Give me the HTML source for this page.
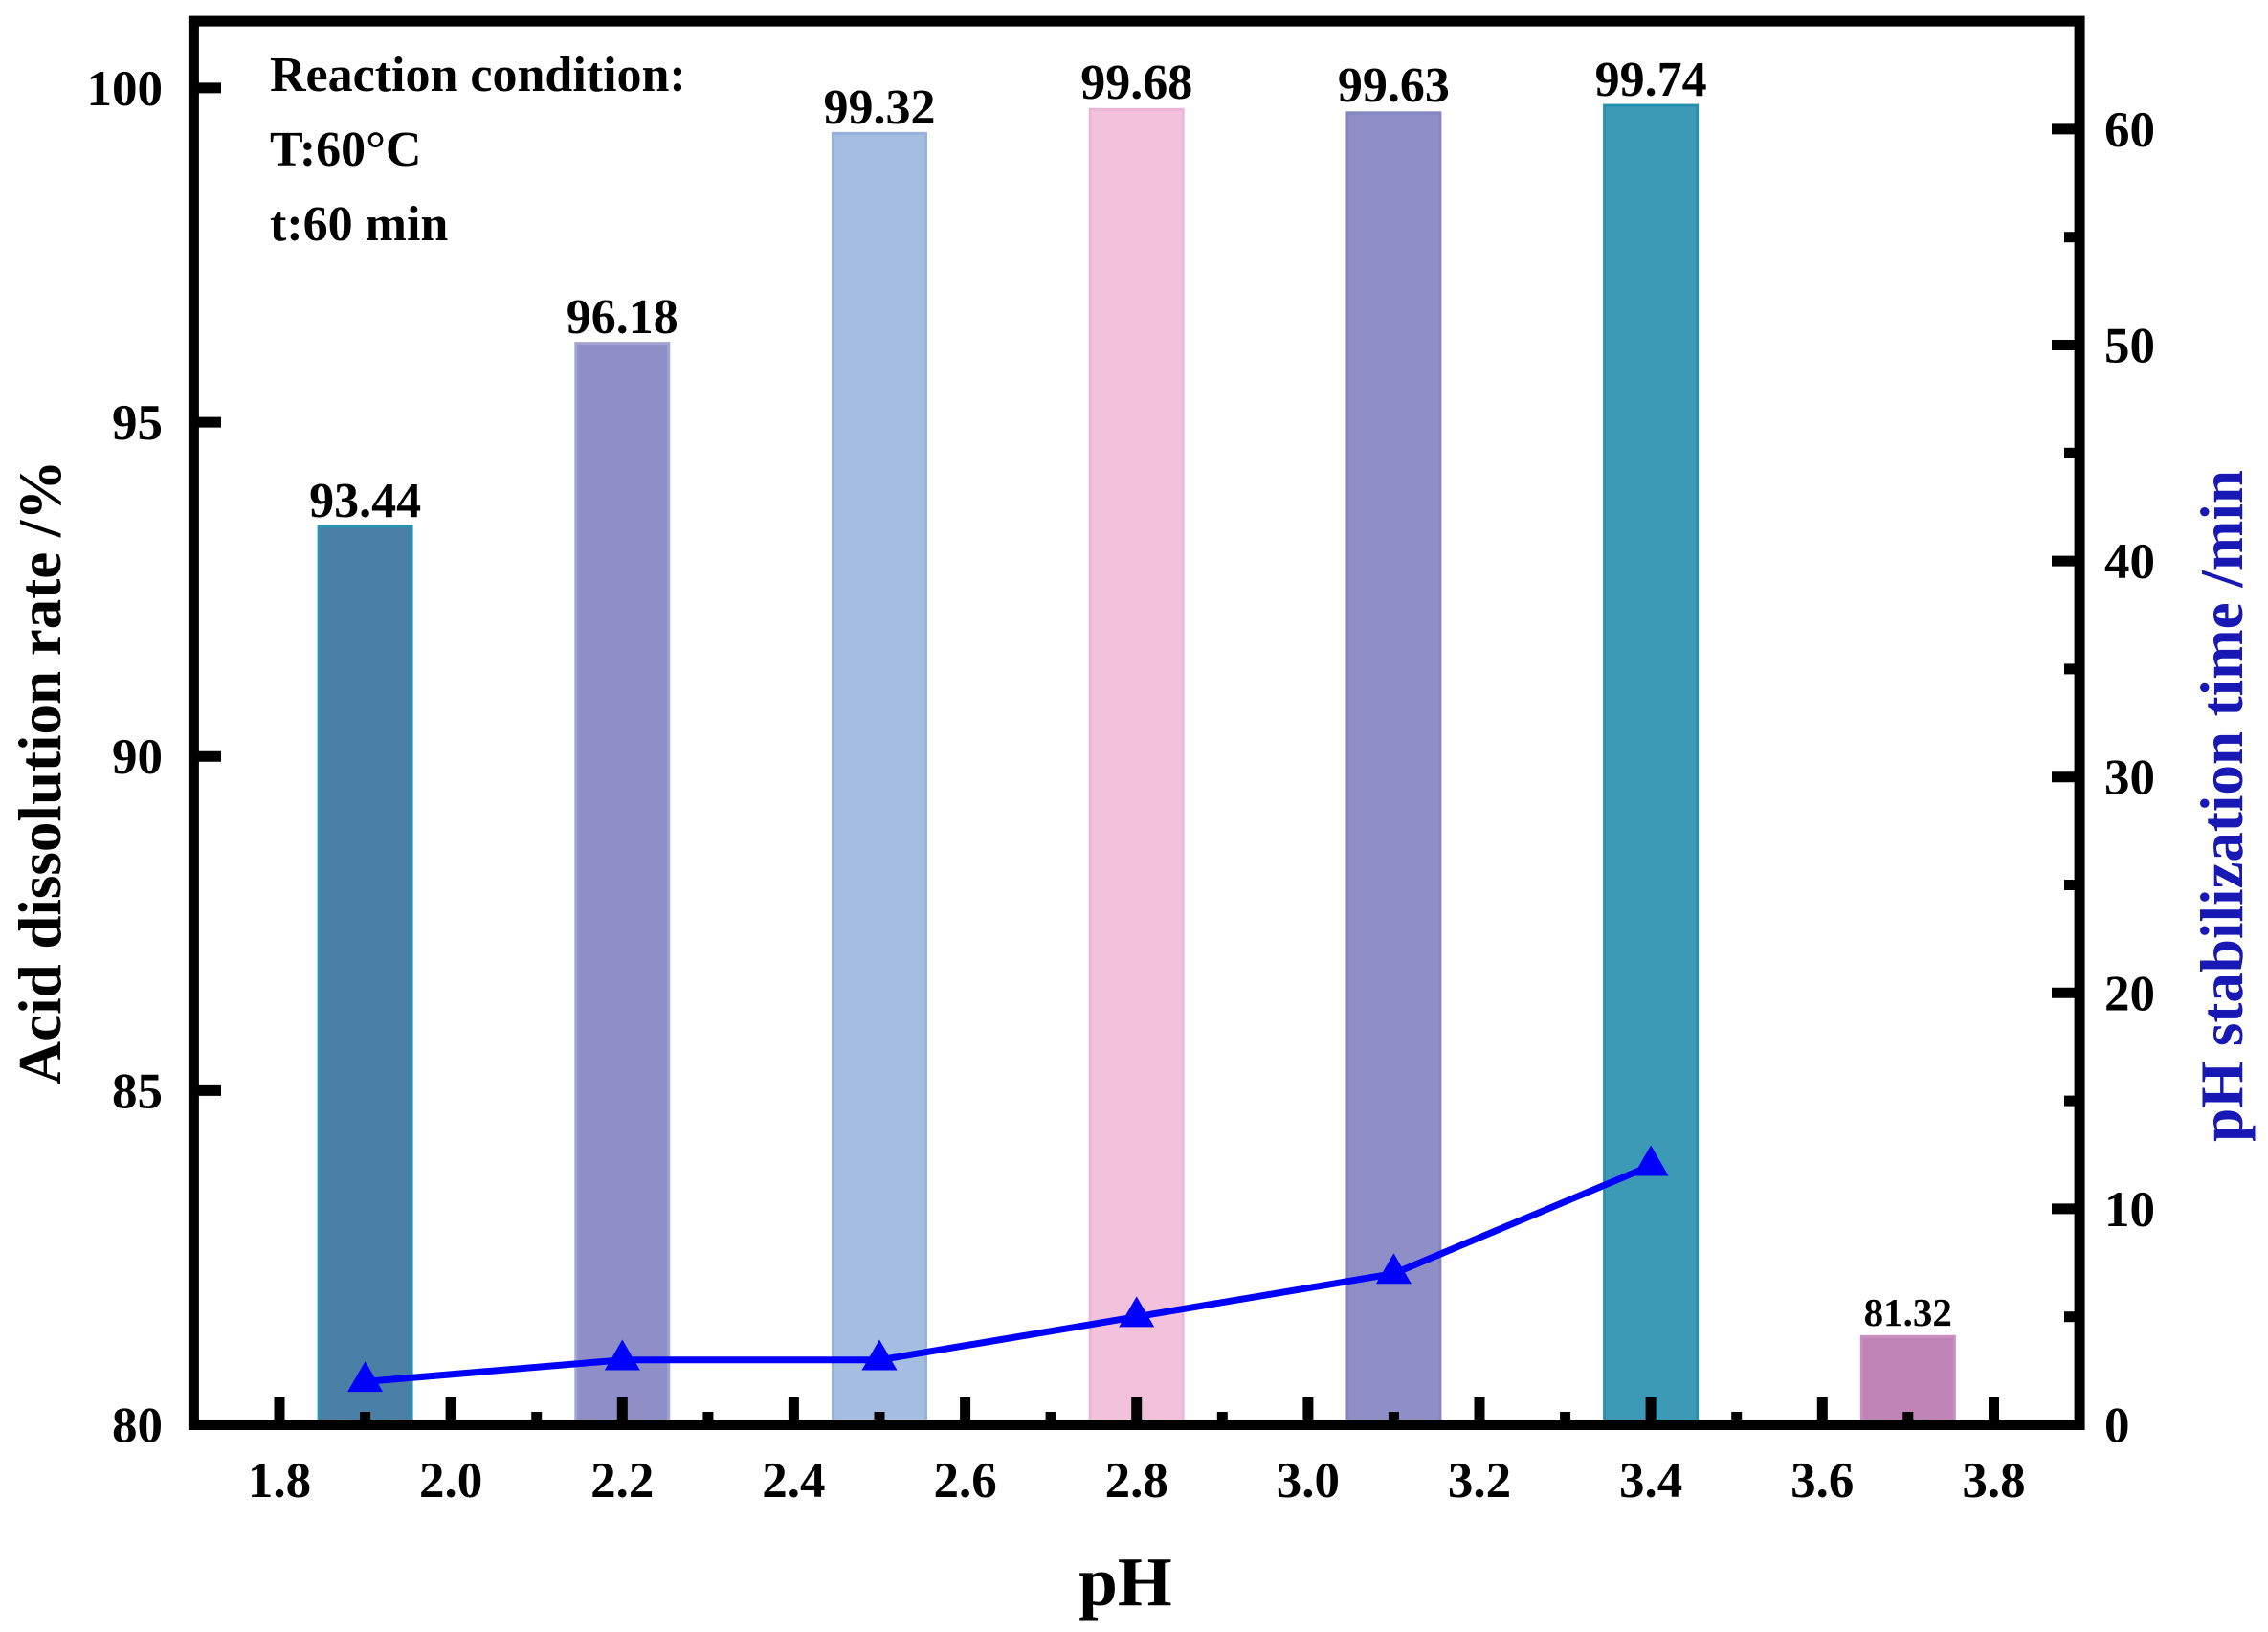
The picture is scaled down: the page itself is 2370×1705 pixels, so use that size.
<!DOCTYPE html>
<html>
<head>
<meta charset="utf-8">
<style>
  html, body { margin: 0; padding: 0; background: #ffffff; }
  svg { display: block; }
  text { font-family: "Liberation Serif", "Times New Roman", serif; font-weight: bold; }
</style>
</head>
<body>
<svg width="2370" height="1705" viewBox="0 0 2370 1705" xmlns="http://www.w3.org/2000/svg">
  <rect x="0" y="0" width="2370" height="1705" fill="#ffffff"/>

  <!-- Bars -->
  <rect x="333.1" y="549.9" width="97" height="938.6" fill="#4a80a6" stroke="#2a95b2" stroke-width="3"/>
  <rect x="601.8" y="358.6" width="97" height="1129.9" fill="#8f8fc7" stroke="#a3a3d4" stroke-width="3"/>
  <rect x="870.5" y="139.4" width="97" height="1349.1" fill="#a6bde2" stroke="#98b0dc" stroke-width="3"/>
  <rect x="1139.2" y="114.3" width="97" height="1374.2" fill="#f2c1dc" stroke="#ebb6d5" stroke-width="3"/>
  <rect x="1407.9" y="117.8" width="97" height="1370.7" fill="#8f8fc7" stroke="#8585c0" stroke-width="3"/>
  <rect x="1676.6" y="110.1" width="97" height="1378.4" fill="#3d9ab7" stroke="#2790ad" stroke-width="3"/>
  <rect x="1945.3" y="1396.3" width="97" height="92.2" fill="#bf83b5" stroke="#c890c0" stroke-width="3"/>

  <!-- Bar value labels -->
  <g font-size="52" fill="#000" text-anchor="middle">
    <text x="381.6" y="540">93.44</text>
    <text x="650.3" y="348">96.18</text>
    <text x="919" y="129">99.32</text>
    <text x="1187.7" y="103">99.68</text>
    <text x="1456.4" y="106">99.63</text>
    <text x="1725.1" y="100">99.74</text>
  </g>
  <text x="1993.8" y="1385" font-size="41" fill="#000" text-anchor="middle">81.32</text>

  <!-- Annotation -->
  <g font-size="52" fill="#000">
    <text x="282" y="95">Reaction condition:</text>
    <text x="282" y="173">T:60°C</text>
    <text x="282" y="251">t:60 min</text>
  </g>

  <!-- Line series -->
  <polyline points="381.6,1443.4 650.3,1420.8 919,1420.8 1187.7,1375.7 1456.4,1330.6 1725.1,1217.8"
            fill="none" stroke="#0000ff" stroke-width="7" stroke-linejoin="miter"/>
  <g fill="#0000ff">
    <polygon points="381.6,1422.1 363.1,1454.1 400.1,1454.1"/>
    <polygon points="650.3,1399.5 631.8,1431.5 668.8,1431.5"/>
    <polygon points="919,1399.5 900.5,1431.5 937.5,1431.5"/>
    <polygon points="1187.7,1354.4 1169.2,1386.4 1206.2,1386.4"/>
    <polygon points="1456.4,1309.3 1437.9,1341.3 1474.9,1341.3"/>
    <polygon points="1725.1,1196.5 1706.6,1228.5 1743.6,1228.5"/>
  </g>

  <!-- X ticks (inward) -->
  <g stroke="#000" stroke-width="11">
    <line x1="292" y1="1488" x2="292" y2="1460"/>
    <line x1="471.1" y1="1488" x2="471.1" y2="1460"/>
    <line x1="650.3" y1="1488" x2="650.3" y2="1460"/>
    <line x1="829.4" y1="1488" x2="829.4" y2="1460"/>
    <line x1="1008.6" y1="1488" x2="1008.6" y2="1460"/>
    <line x1="1187.7" y1="1488" x2="1187.7" y2="1460"/>
    <line x1="1366.9" y1="1488" x2="1366.9" y2="1460"/>
    <line x1="1546" y1="1488" x2="1546" y2="1460"/>
    <line x1="1725.1" y1="1488" x2="1725.1" y2="1460"/>
    <line x1="1904.3" y1="1488" x2="1904.3" y2="1460"/>
    <line x1="2083.5" y1="1488" x2="2083.5" y2="1460"/>
    <!-- minor -->
    <line x1="381.6" y1="1488" x2="381.6" y2="1475"/>
    <line x1="560.7" y1="1488" x2="560.7" y2="1475"/>
    <line x1="739.9" y1="1488" x2="739.9" y2="1475"/>
    <line x1="919" y1="1488" x2="919" y2="1475"/>
    <line x1="1098.1" y1="1488" x2="1098.1" y2="1475"/>
    <line x1="1277.3" y1="1488" x2="1277.3" y2="1475"/>
    <line x1="1456.4" y1="1488" x2="1456.4" y2="1475"/>
    <line x1="1635.6" y1="1488" x2="1635.6" y2="1475"/>
    <line x1="1814.7" y1="1488" x2="1814.7" y2="1475"/>
    <line x1="1993.8" y1="1488" x2="1993.8" y2="1475"/>

    <!-- Left ticks -->
    <line x1="202" y1="1139.4" x2="231" y2="1139.4"/>
    <line x1="202" y1="790.2" x2="231" y2="790.2"/>
    <line x1="202" y1="441.1" x2="231" y2="441.1"/>
    <line x1="202" y1="91.9" x2="231" y2="91.9"/>

    <!-- Right ticks major -->
    <line x1="2173" y1="1262.9" x2="2144" y2="1262.9"/>
    <line x1="2173" y1="1037.3" x2="2144" y2="1037.3"/>
    <line x1="2173" y1="811.7" x2="2144" y2="811.7"/>
    <line x1="2173" y1="586.1" x2="2144" y2="586.1"/>
    <line x1="2173" y1="360.5" x2="2144" y2="360.5"/>
    <line x1="2173" y1="134.9" x2="2144" y2="134.9"/>
    <!-- Right ticks minor -->
    <line x1="2173" y1="1375.7" x2="2157" y2="1375.7"/>
    <line x1="2173" y1="1150.1" x2="2157" y2="1150.1"/>
    <line x1="2173" y1="924.5" x2="2157" y2="924.5"/>
    <line x1="2173" y1="698.9" x2="2157" y2="698.9"/>
    <line x1="2173" y1="473.3" x2="2157" y2="473.3"/>
    <line x1="2173" y1="247.7" x2="2157" y2="247.7"/>
  </g>

  <!-- Frame -->
  <rect x="202.4" y="22.1" width="1970.7" height="1466.4" fill="none" stroke="#000" stroke-width="11"/>

  <!-- Left tick labels -->
  <g font-size="53" fill="#000" text-anchor="end">
    <text x="170" y="1506.5">80</text>
    <text x="170" y="1157.4">85</text>
    <text x="170" y="808.2">90</text>
    <text x="170" y="459.1">95</text>
    <text x="170" y="109.9">100</text>
  </g>

  <!-- Right tick labels -->
  <g font-size="53" fill="#000" text-anchor="start">
    <text x="2199" y="1506.5">0</text>
    <text x="2199" y="1280.9">10</text>
    <text x="2199" y="1055.3">20</text>
    <text x="2199" y="829.7">30</text>
    <text x="2199" y="604.1">40</text>
    <text x="2199" y="378.5">50</text>
    <text x="2199" y="152.9">60</text>
  </g>

  <!-- X tick labels -->
  <g font-size="53" fill="#000" text-anchor="middle">
    <text x="292" y="1564">1.8</text>
    <text x="471.1" y="1564">2.0</text>
    <text x="650.3" y="1564">2.2</text>
    <text x="829.4" y="1564">2.4</text>
    <text x="1008.6" y="1564">2.6</text>
    <text x="1187.7" y="1564">2.8</text>
    <text x="1366.9" y="1564">3.0</text>
    <text x="1546" y="1564">3.2</text>
    <text x="1725.1" y="1564">3.4</text>
    <text x="1904.3" y="1564">3.6</text>
    <text x="2083.5" y="1564">3.8</text>
  </g>

  <!-- Axis titles -->
  <text x="1176" y="1677" font-size="73" fill="#000" text-anchor="middle">pH</text>
  <text transform="translate(63,807) rotate(-90)" font-size="63" fill="#000" text-anchor="middle">Acid dissolution rate /%</text>
  <text transform="translate(2343,842) rotate(-90)" font-size="63" fill="#1818b4" text-anchor="middle">pH stabilization time /min</text>
</svg>
</body>
</html>
